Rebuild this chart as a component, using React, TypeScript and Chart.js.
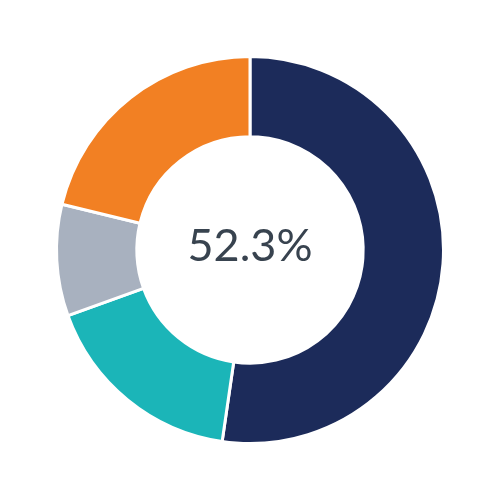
import { useEffect, useRef } from 'react';
import { Chart, registerables } from 'chart.js';

Chart.register(...registerables);

const labels = ['Segment A', 'Segment B', 'Segment C', 'Segment D'];
const values = [52.3, 17.2, 9.3, 21.2];
const colors = ['#1c2b5a', '#1bb5b8', '#a8b1bf', '#f28023'];
const centerLabel = '52.3%';

export default function App() {
  const canvasRef = useRef<HTMLCanvasElement | null>(null);

  useEffect(() => {
    if (!canvasRef.current) {
      return;
    }

    const chart = new Chart(canvasRef.current, {
      type: 'doughnut',
      data: {
        labels,
        datasets: [
          {
            data: values,
            backgroundColor: colors,
            borderColor: '#ffffff',
            borderWidth: 3,
          },
        ],
      },
      options: {
        responsive: true,
        maintainAspectRatio: false,
        animation: false,
        cutout: '58.5%',
        layout: { padding: 55 },
        plugins: {
          legend: { display: false },
          tooltip: { enabled: false },
        },
      },
    });

    return () => {
      chart.destroy();
    };
  }, []);

  return (
    <div style={{ position: 'fixed', top: 0, left: 0, width: 500, height: 500, background: '#ffffff' }}>
      <canvas ref={canvasRef} />
      <div
        style={{
          position: 'absolute',
          left: 0,
          top: 0,
          width: 500,
          height: 488,
          display: 'flex',
          alignItems: 'center',
          justifyContent: 'center',
          fontFamily: 'Lato, sans-serif',
          fontSize: 45,
          color: '#38434f',
          pointerEvents: 'none',
        }}
      >
        {centerLabel}
      </div>
    </div>
  );
}
